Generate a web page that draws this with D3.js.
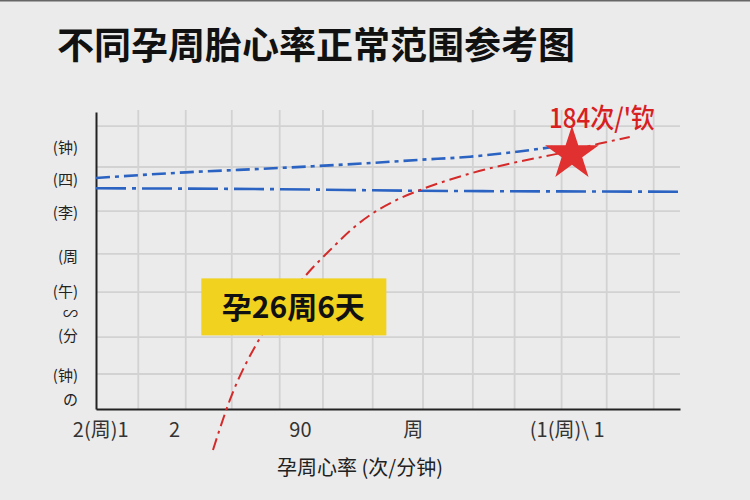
<!DOCTYPE html>
<html>
<head>
<meta charset="utf-8">
<script src="https://cdn.jsdelivr.net/npm/d3@7/dist/d3.min.js"></script>
<style>
  html, body { margin: 0; padding: 0; background: #ebebeb; }
  svg { display: block; }
  text { font-family: "Noto Sans CJK SC", "Noto Sans", sans-serif; }
</style>
</head>
<body>
<svg id="chart" width="750" height="500"></svg>
<script>
// ---- data ----
const titleText = "不同孕周胎心率正常范围参考图";
const xAxisTitle = "孕周心率 (次/分钟)";
const xTickValues = [0.09, 1.66, 4.34, 6.74, 10.02];
const xTickLabels = ["2(周)1", "2", "90", "周", "(1(周)\\ 1"];
const yTickValues = [185.5, 175.3, 164.7, 150.6, 139.4, 132.4, 125.4, 112.6, 104.9];
const yTickLabels = ["(钟)", "(四)", "(李)", "(周", "(午)", "∽", "(分", "(钟)", "の"];
const xGridValues = [0.9, 1.91, 2.89, 3.91, 4.83, 5.89, 6.96, 8.02, 8.91, 9.91, 10.87, 11.87];
const yGridValues = [192.5, 179.4, 165.3, 151.6, 139.4, 125.0, 113.2];
const upperWeeks = [0, 1.91, 3.91, 5.87, 6.89, 7.96, 8.96, 9.72];
const upperBpm   = [175.9, 177.7, 179.1, 180.7, 181.7, 182.7, 184.3, 185.8];
const lowerWeeks = [0, 3.91, 6.89, 9.87, 12.43];
const lowerBpm   = [172.6, 172.3, 171.8, 171.6, 171.5];
const fetalWeeks = [2.49, 2.85, 3.55, 4.51, 5.02, 5.45, 5.89, 6.36, 6.89, 7.96, 8.96, 9.81, 10.72, 11.36];
const fetalBpm   = [88.9, 104.9, 126.3, 145.5, 153.4, 159.6, 164.6, 168.6, 172.0, 177.3, 181.0, 183.6, 186.9, 189.0];
const markerWeek = 10.13, markerBpm = 184.2;
const markerLabel = "184次/'钦";
const boxLabel = "孕26周6天";
const boxWeek = 4.2, boxBpm = 134.5;

// ---- layout ----
const svg = d3.select("#chart");
const L = 96, R = 680, T = 112, B = 409;
const x = d3.scaleLinear().domain([0, 12.43]).range([L, R]);
const y = d3.scaleLinear().domain([102, 197]).range([B, T]);

svg.append("rect").attr("width", 750).attr("height", 500).attr("fill", "#ebebeb");
svg.append("line").attr("x1", 0).attr("x2", 750).attr("y1", 0.5).attr("y2", 0.5)
  .attr("stroke", "#666").attr("stroke-width", 2);

// title
svg.append("text").attr("x", 57).attr("y", 59)
  .attr("font-size", 37).attr("font-weight", 700).attr("fill", "#111")
  .text(titleText);

// grid
const g = svg.append("g");
g.selectAll(".vg").data(xGridValues).join("line")
  .attr("x1", d => x(d)).attr("x2", d => x(d)).attr("y1", T - 2).attr("y2", B)
  .attr("stroke", "#d2d2d2").attr("stroke-width", 1.8);
g.selectAll(".hg").data(yGridValues).join("line")
  .attr("x1", L).attr("x2", R).attr("y1", d => y(d)).attr("y2", d => y(d))
  .attr("stroke", "#d2d2d2").attr("stroke-width", 1.8);

// axes
const xAxis = d3.axisBottom(x).tickValues(xTickValues)
  .tickFormat((d, i) => xTickLabels[i]).tickSize(0).tickPadding(14);
const xg = svg.append("g").attr("transform", `translate(0,${B})`).call(xAxis);
xg.select(".domain").attr("stroke", "#222").attr("stroke-width", 2);
xg.selectAll("text").attr("font-size", 20).attr("fill", "#333")
  .attr("font-family", "'Liberation Sans Narrow', 'Noto Sans CJK SC', sans-serif");

const yAxis = d3.axisLeft(y).tickValues(yTickValues)
  .tickFormat((d, i) => yTickLabels[i]).tickSize(0).tickPadding(18);
const yg = svg.append("g").attr("transform", `translate(${L},0)`).call(yAxis);
yg.select(".domain").attr("stroke", "#222").attr("stroke-width", 2);
yg.selectAll("text").attr("font-size", 15).attr("fill", "#222");

// lines
const line = d3.line().x(d => x(d[0])).y(d => y(d[1])).curve(d3.curveMonotoneX);
svg.append("path").datum(upperWeeks.map((w, i) => [w, upperBpm[i]]))
  .attr("d", line).attr("fill", "none").attr("stroke", "#2b63c2")
  .attr("stroke-width", 2.6).attr("stroke-dasharray", "14 5 4 5");
svg.append("path").datum(lowerWeeks.map((w, i) => [w, lowerBpm[i]]))
  .attr("d", line).attr("fill", "none").attr("stroke", "#2b63c2")
  .attr("stroke-width", 2.6).attr("stroke-dasharray", "30 6 4 6");
svg.append("path").datum(fetalWeeks.map((w, i) => [w, fetalBpm[i]]))
  .attr("d", line)
  .attr("fill", "none").attr("stroke", "#d42a2a")
  .attr("stroke-width", 2).attr("stroke-dasharray", "12 5 3 5");

// star marker
svg.append("path")
  .attr("d", d3.symbol().type(d3.symbolStar).size(900)())
  .attr("transform", `translate(${x(markerWeek)},${y(markerBpm) + 2})`)
  .attr("fill", "#e0302f");
svg.append("text").attr("x", x(markerWeek) + 30).attr("y", y(markerBpm) - 24)
  .attr("text-anchor", "middle").attr("font-size", 27).attr("font-weight", 500)
  .attr("fill", "#d8201f")
  .attr("textLength", 106).attr("lengthAdjust", "spacingAndGlyphs")
  .text(markerLabel);

// yellow box
const bx = x(boxWeek), by = y(boxBpm);
svg.append("rect").attr("x", bx - 92).attr("y", by - 29).attr("width", 185).attr("height", 57)
  .attr("fill", "#f0d21f");
svg.append("text").attr("x", bx).attr("y", by + 11)
  .attr("text-anchor", "middle").attr("font-size", 30).attr("font-weight", 700)
  .attr("fill", "#111").text(boxLabel);

// x title
svg.append("text").attr("x", 360).attr("y", 475).attr("text-anchor", "middle")
  .attr("font-size", 20).attr("fill", "#222").text(xAxisTitle);
</script>
</body>
</html>
